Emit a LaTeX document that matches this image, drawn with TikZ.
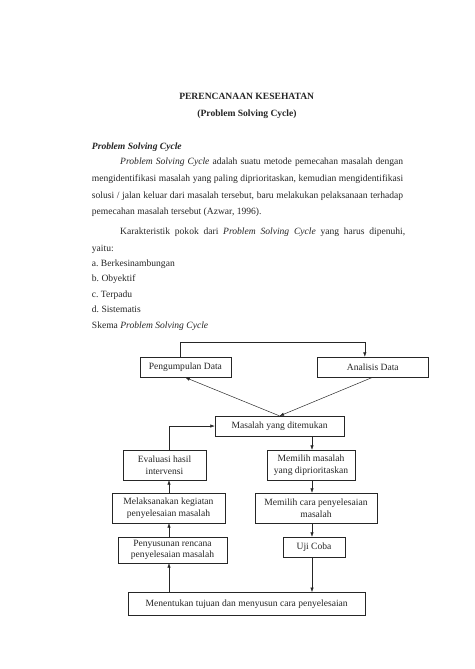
\documentclass[12pt,tikz,border=0pt]{standalone}
\usepackage{fontspec}
\setmainfont{Liberation Serif}
\usetikzlibrary{arrows.meta,positioning,calc}

\begin{document}
\begin{tikzpicture}[
  x=1.2548pt, y=-1.2548pt, >={Latex[length=5.5pt,width=4.2pt]},
  line width=0.6pt, black!85,
  txt/.style={anchor=base west,inner sep=0pt,text=black!85},
  box/.style={draw,align=center,inner sep=2pt,text=black!85},
  ar/.style={->}
]
\useasboundingbox[fill=white] (0,0) rectangle (474,669);
% title
\node[anchor=base,inner sep=0pt,font=\bfseries] (title) at (246.7,99) {PERENCANAAN KESEHATAN};
\node[anchor=base,inner sep=0pt,font=\bfseries] (subtitle) at (247,116.5) {(Problem Solving Cycle)};
% body text
\node[txt,font=\bfseries\itshape] (head) at (91.7,149) {Problem Solving Cycle};
\node[txt] (p1) at (120,164) {\makebox[355pt][s]{\textit{Problem Solving Cycle} adalah suatu metode pemecahan masalah dengan}};
\node[txt] (p2) at (91.7,181) {\makebox[390.6pt][s]{mengidentifikasi masalah yang paling diprioritaskan, kemudian mengidentifikasi}};
\node[txt] (p3) at (91.7,198) {\makebox[390.6pt][s]{solusi / jalan keluar dari masalah tersebut, baru melakukan pelaksanaan terhadap}};
\node[txt] (p4) at (91.7,214.5) {pemecahan masalah tersebut (Azwar, 1996).};
\node[txt] (k1) at (120,234) {\makebox[357.6pt][s]{Karakteristik pokok dari \textit{Problem Solving Cycle} yang harus dipenuhi,}};
\node[txt] (k2) at (91.7,251) {yaitu:};
\node[txt] (ka) at (91.7,266) {a.\ Berkesinambungan};
\node[txt] (kb) at (91.7,281.5) {b.\ Obyektif};
\node[txt] (kc) at (91.7,297) {c.\ Terpadu};
\node[txt] (kd) at (91.7,312.5) {d.\ Sistematis};
\node[txt] (skema) at (91.7,328) {Skema \textit{Problem Solving Cycle}};
% cycle boxes
\node[box,minimum width=113.8pt,minimum height=24.6pt] (kumpul) at (185.4,367.5) {Pengumpulan Data};
\node[box,minimum width=139.3pt,minimum height=25.1pt] (analisis) at (372.8,367) {Analisis Data};
\node[box,minimum width=162.2pt,minimum height=24.7pt] (masalah) at (279.6,426) {Masalah yang ditemukan};
\node[box,minimum width=104.5pt,minimum height=37.6pt] (evaluasi) at (164.5,465) {Evaluasi hasil\\intervensi};
\node[box,minimum width=110.4pt,minimum height=37.6pt] (prioritas) at (311,465) {Memilih masalah\\yang diprioritaskan};
\node[box,minimum width=141.8pt,minimum height=37.6pt] (laksana) at (168.5,508) {Melaksanakan kegiatan\\penyelesaian masalah};
\node[box,minimum width=153.1pt,minimum height=37.6pt] (cara) at (316,508) {Memilih cara penyelesaian\\masalah};
\node[box,minimum width=136.8pt,minimum height=32.6pt] (rencana) at (172.5,550) {Penyusunan rencana\\penyelesaian masalah};
\node[box,minimum width=77.8pt,minimum height=25.1pt] (uji) at (314,547) {Uji Coba};
\node[box,minimum width=297pt,minimum height=29.4pt] (tujuan) at (246.7,604) {Menentukan tujuan dan menyusun cara penyelesaian};
% columns of the vertical arrows
\coordinate (kiri) at (169,0);
\coordinate (kanan) at (312,0);
% top part
\draw[ar] ([xshift=-6pt]kumpul.north) -- ++(0,-15) -| ([xshift=-10pt]analisis.north);
\draw[ar] (analisis.south) -- (masalah.north);
\draw[ar] (masalah.north) -- (kumpul.south);
% left column, going up
\draw[ar] (tujuan.north -| kiri) -- (rencana.south -| kiri);
\draw[ar] (rencana.north -| kiri) -- (laksana.south -| kiri);
\draw[ar] (laksana.north -| kiri) -- (evaluasi.south -| kiri);
\draw[ar] (evaluasi.north -| kiri) |- (masalah.west);
% right column, going down
\draw[ar] (masalah.south -| kanan) -- (prioritas.north -| kanan);
\draw[ar] (prioritas.south -| kanan) -- (cara.north -| kanan);
\draw[ar] (cara.south -| kanan) -- (uji.north -| kanan);
\draw[ar] (uji.south -| kanan) -- (tujuan.north -| kanan);
\end{tikzpicture}
\end{document}
